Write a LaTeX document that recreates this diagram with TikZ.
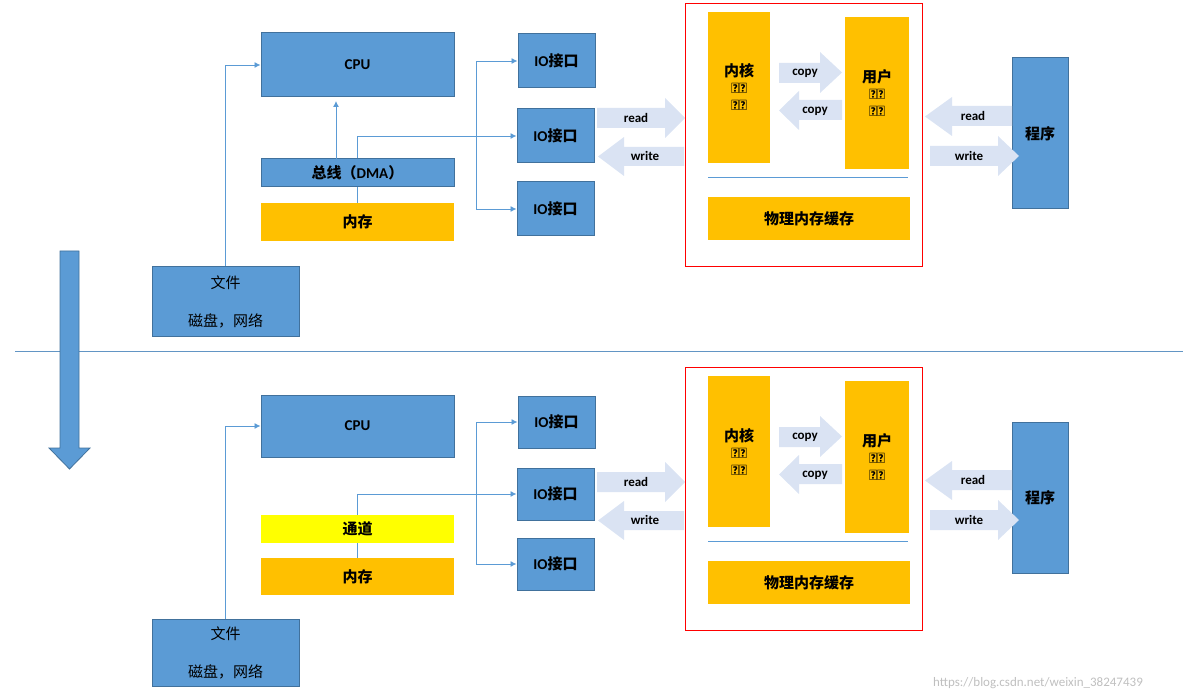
\documentclass[tikz,border=0pt]{standalone}
\usepackage{fontspec}
\setmainfont{Carlito}
\newfontfamily\cjk{Noto Sans CJK SC}
\usetikzlibrary{arrows.meta}
\definecolor{bl}{HTML}{5B9BD5}
\definecolor{bd}{HTML}{41719C}
\definecolor{og}{HTML}{FFC000}
\definecolor{ye}{HTML}{FFFF00}
\definecolor{la}{HTML}{DAE3F3}
\newcommand\rightpart[1]{%
\begin{scope}[yshift=-#1pt]
\node[rbox,minimum width=237,minimum height=263] (red) at (803.5,134.5) {};
\node[obox,minimum width=62,minimum height=151] (kern) at (739,87.5) {\cjk 内核\\空间\\缓存};
\node[obox,minimum width=64,minimum height=152] (user) at (877,93) {\cjk 用户\\空间\\缓存};
\node[obox,minimum width=202,minimum height=43] (phys) at (809,218.5) {\cjk 物理内存缓存};
\draw[ln] (708,177) -- (908,177);
\node[box,minimum width=56,minimum height=151] (prog) at (1040,133.5) {\cjk 程序};
\fill[la] (779,63) -- (820,63) -- (820,52) -- (842,72.5) -- (820,93) -- (820,83) -- (779,83) -- cycle;
\node[lbl] at (805,73) {copy};
\fill[la] (842,100) -- (799,100) -- (799,91) -- (779,110.5) -- (799,130) -- (799,120) -- (842,120) -- cycle;
\node[lbl] at (815,111) {copy};
\fill[la] (597,108) -- (665,108) -- (665,98) -- (685,118) -- (665,138) -- (665,128) -- (597,128) -- cycle;
\node[lbl] at (636,118) {read};
\fill[la] (684,147) -- (624,147) -- (624,137) -- (598,156.5) -- (624,176) -- (624,166) -- (684,166) -- cycle;
\node[lbl] at (645,156) {write};
\fill[la] (1012,106) -- (952,106) -- (952,97) -- (925,116.5) -- (952,136) -- (952,126) -- (1012,126) -- cycle;
\node[lbl] at (973,116) {read};
\fill[la] (930,146) -- (998,146) -- (998,136) -- (1019,156) -- (998,176) -- (998,166) -- (930,166) -- cycle;
\node[lbl] at (969,156) {write};
\end{scope}}
\begin{document}
\begin{tikzpicture}[x=1pt,y=-1pt,
 box/.style={draw=bd,fill=bl,line width=1pt,inner sep=0pt,align=center,font=\fontsize{15}{17}\selectfont\bfseries},
 obox/.style={fill=og,inner sep=0pt,align=center,font=\fontsize{15}{17}\selectfont\bfseries},
 ybox/.style={fill=ye,inner sep=0pt,align=center,font=\fontsize{15}{17}\selectfont\bfseries},
 rbox/.style={draw=red,line width=0.8pt},
 ln/.style={draw=bl,line width=0.9pt},
 arr/.style={ln,-{Latex[length=6pt,width=6pt]}},
 lbl/.style={font=\fontsize{13}{15}\selectfont\bfseries}]
\useasboundingbox (0,0) rectangle (1183,700);
% separator and big arrow
\draw[draw=bl!80!gray,line width=0.8pt] (15,351) -- (1183,351);
\filldraw[fill=bl,draw=bd,line width=0.8pt] (60,251) -- (79,251) -- (79,448) -- (90,448) -- (69.5,469) -- (49,448) -- (60,448) -- cycle;
% ===== top half =====
\node[box,minimum width=193,minimum height=64] (cpuA) at (357.5,65) {CPU};
\node[box,minimum width=193,minimum height=28] (busA) at (357.5,173) {{\cjk 总线（}DMA{\cjk ）}};
\node[obox,minimum width=193,minimum height=38] (memA) at (357.5,222) {\cjk 内存};
\node[box,minimum width=147,minimum height=70] (fileA) at (225.5,302) {};
\node at (225.5,283) {\fontsize{15}{17}\selectfont\cjk 文件};
\node at (225.5,321) {\fontsize{15}{17}\selectfont\cjk 磁盘，网络};
\node[box,minimum width=77,minimum height=54] (ioA1) at (556.5,61) {IO{\cjk 接口}};
\node[box,minimum width=77,minimum height=54] (ioA2) at (555.5,136) {IO{\cjk 接口}};
\node[box,minimum width=77,minimum height=54] (ioA3) at (555.5,209) {IO{\cjk 接口}};
\coordinate (busAl) at (336,159);
\coordinate (cpuAt) at (336,101);
\coordinate (fanA) at (476,136);
\draw[arr] (fileA.north) |- (cpuA.west);
\draw[arr] (busAl) -- (cpuAt);
\draw[arr] (busA.north) |- (ioA2.west);
\draw[ln] (memA.north) -- (busA.south);
\draw[arr] (fanA) |- (ioA1.west);
\draw[arr] (fanA) |- (ioA3.west);
\rightpart{0}
% ===== bottom half =====
\node[box,minimum width=193,minimum height=62] (cpuB) at (357.5,426) {CPU};
\node[ybox,minimum width=193,minimum height=28] (chB) at (357.5,529) {\cjk 通道};
\node[obox,minimum width=193,minimum height=37] (memB) at (357.5,576.5) {\cjk 内存};
\node[box,minimum width=147,minimum height=67] (fileB) at (225.5,652.5) {};
\node at (225.5,634) {\fontsize{15}{17}\selectfont\cjk 文件};
\node at (225.5,672) {\fontsize{15}{17}\selectfont\cjk 磁盘，网络};
\node[box,minimum width=77,minimum height=52] (ioB1) at (556.5,422) {IO{\cjk 接口}};
\node[box,minimum width=77,minimum height=52] (ioB2) at (555.5,494) {IO{\cjk 接口}};
\node[box,minimum width=77,minimum height=52] (ioB3) at (555.5,564) {IO{\cjk 接口}};
\coordinate (fanB) at (476,494);
\draw[arr] (fileB.north) |- (cpuB.west);
\draw[arr] (chB.north) |- (ioB2.west);
\draw[ln] (memB.north) -- (chB.south);
\draw[arr] (fanB) |- (ioB1.west);
\draw[arr] (fanB) |- (ioB3.west);
\rightpart{364}
\node[text=gray!50,font=\fontsize{13}{15}\selectfont] at (1038,683) {https://blog.csdn.net/weixin\_38247439};
\end{tikzpicture}
\end{document}
